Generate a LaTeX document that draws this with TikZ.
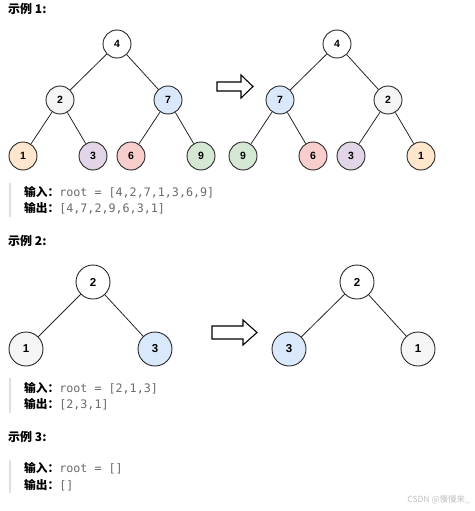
\documentclass[tikz,border=0pt]{standalone}
\usepackage{fontspec}
\setmainfont{Liberation Sans}
\newfontfamily\cjkfont{Noto Sans CJK SC}
\newfontfamily\codefont{DejaVu Sans Mono}
\usetikzlibrary{positioning}
\definecolor{greyfill}{HTML}{F5F5F5}
\definecolor{bluefill}{HTML}{DAE8FC}
\definecolor{orangefill}{HTML}{FFE6CC}
\definecolor{purplefill}{HTML}{E1D5E7}
\definecolor{redfill}{HTML}{F8CECC}
\definecolor{greenfill}{HTML}{D5E8D4}
\definecolor{codegrey}{HTML}{6A6A6A}
\tikzset{
  tnode/.style={circle, draw=black!85, line width=0.9pt, minimum size=28pt, inner sep=0pt,
    font=\bfseries\fontsize{10.5}{10.5}\selectfont},
  bignode/.style={tnode, minimum size=34pt, font=\bfseries\fontsize{11.5}{11.5}\selectfont},
  edge/.style={draw=black!85, line width=0.8pt},
  hollowarrow/.style={draw=black, line width=1.1pt, fill=white, line join=miter},
  heading/.style={anchor=west, inner sep=0pt, font=\cjkfont\bfseries\fontsize{12}{14}\selectfont},
  codeline/.style={anchor=west, inner sep=0pt, font=\fontsize{11.7}{13}\selectfont},
  quotebar/.style={draw=black!12, line width=2pt},
}
\newcommand{\inlabel}[1]{{\cjkfont\bfseries 输入：}{\codefont\color{codegrey}#1}}
\newcommand{\outlabel}[1]{{\cjkfont\bfseries 输出：}{\codefont\color{codegrey}#1}}
\begin{document}
\begin{tikzpicture}[x=1pt, y=-1pt]
    \useasboundingbox (0,0) rectangle (474,511);
    % example 1
    \node[heading] (head1) at (8,9) {示例 1:};
    \node[tnode] (a4) at (117,44) {4};
    \node[tnode, fill=greyfill] (a2) at (60,100) {2};
    \node[tnode, fill=bluefill] (a7) at (168,100) {7};
    \node[tnode, fill=orangefill] (a1) at (23,156) {1};
    \node[tnode, fill=purplefill] (a3) at (93,156) {3};
    \node[tnode, fill=redfill] (a6) at (131,156) {6};
    \node[tnode, fill=greenfill] (a9) at (201,156) {9};
    \draw[edge] (a4) -- (a2);
    \draw[edge] (a4) -- (a7);
    \draw[edge] (a2) -- (a1);
    \draw[edge] (a2) -- (a3);
    \draw[edge] (a7) -- (a6);
    \draw[edge] (a7) -- (a9);
    \draw[hollowarrow] (217,82) -- (241,82) -- (241,75) -- (253,86.5) -- (241,98) -- (241,91) -- (217,91) -- cycle;
    \node[tnode] (b4) at (337,44) {4};
    \node[tnode, fill=bluefill] (b7) at (280,100) {7};
    \node[tnode, fill=greyfill] (b2) at (388,100) {2};
    \node[tnode, fill=greenfill] (b9) at (243,156) {9};
    \node[tnode, fill=redfill] (b6) at (313,156) {6};
    \node[tnode, fill=purplefill] (b3) at (351,156) {3};
    \node[tnode, fill=orangefill] (b1) at (421,156) {1};
    \draw[edge] (b4) -- (b7);
    \draw[edge] (b4) -- (b2);
    \draw[edge] (b7) -- (b9);
    \draw[edge] (b7) -- (b6);
    \draw[edge] (b2) -- (b3);
    \draw[edge] (b2) -- (b1);
    \draw[quotebar] (10,183) -- (10,217);
    \node[codeline] (in1) at (24,192) {\inlabel{root = [4,2,7,1,3,6,9]}};
    \node[codeline] (out1) at (24,208) {\outlabel{[4,7,2,9,6,3,1]}};
    % example 2
    \node[heading] (head2) at (8,241) {示例 2:};
    \node[bignode] (c2) at (93,282) {2};
    \node[bignode, fill=greyfill] (c1) at (26,349) {1};
    \node[bignode, fill=bluefill] (c3) at (155,349) {3};
    \draw[edge] (c2) -- (c1);
    \draw[edge] (c2) -- (c3);
    \draw[hollowarrow] (212,326) -- (243,326) -- (243,320) -- (257,332.5) -- (243,345) -- (243,339) -- (212,339) -- cycle;
    \node[bignode] (d2) at (357,282) {2};
    \node[bignode, fill=bluefill] (d3) at (289,349) {3};
    \node[bignode, fill=greyfill] (d1) at (418,349) {1};
    \draw[edge] (d2) -- (d3);
    \draw[edge] (d2) -- (d1);
    \draw[quotebar] (10,378) -- (10,413);
    \node[codeline] (in2) at (24,388) {\inlabel{root = [2,1,3]}};
    \node[codeline] (out2) at (24,404) {\outlabel{[2,3,1]}};
    % example 3
    \node[heading] (head3) at (8,437) {示例 3:};
    \draw[quotebar] (10,460) -- (10,493);
    \node[codeline] (in3) at (24,468) {\inlabel{root = []}};
    \node[codeline] (out3) at (24,485) {\outlabel{[]}};
    \node[anchor=east, inner sep=0pt, text=black!25, font=\cjkfont\fontsize{8.5}{8.5}\selectfont] (mark) at (470,500) {CSDN @慢慢来\_};
\end{tikzpicture}
\end{document}
